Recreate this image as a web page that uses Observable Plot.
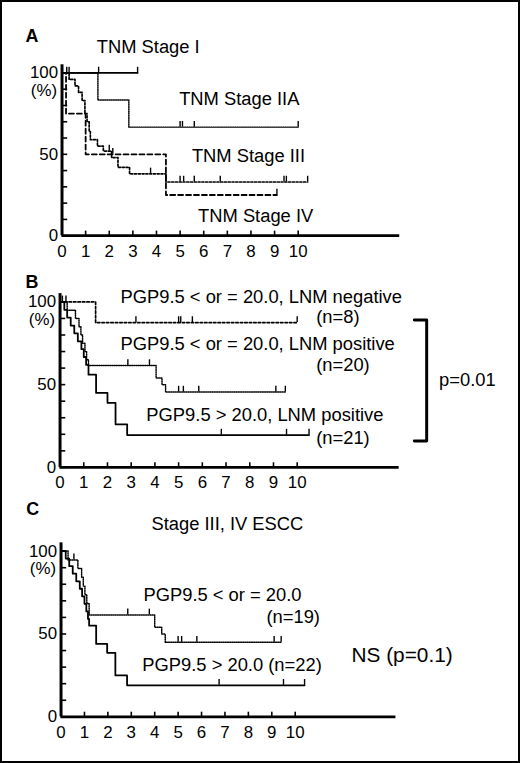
<!DOCTYPE html>
<html><head><meta charset="utf-8">
<script src="https://cdn.jsdelivr.net/npm/d3@7"></script>
<script src="https://cdn.jsdelivr.net/npm/@observablehq/plot@0.6"></script>
<style>
html,body{margin:0;padding:0;background:#fff;}
#frame{position:relative;width:520px;height:763px;box-sizing:border-box;border:2px solid #000;overflow:hidden;background:#fff;}
#frame svg{position:absolute;left:-2px;}
</style></head>
<body><div id="frame"></div>
<script>
// ---- shared ticks ----
const xTicks = [0,1,2,3,4,5,6,7,8,9,10];
const yTicks = [0,10,20,30,40,50,60,70,80,90,100];
const yLabels = [0,50,100];

// ---- Panel A: TNM stages ----
const stageI_t = [0, 3.2];
const stageI_s = [100, 100];
const stageI_c = [0.2, 1.55, 3.2];

const stageIIA_t = [0, 1.52, 2.83, 10.0];
const stageIIA_s = [100, 83.3, 66.7, 66.7];
const stageIIA_c = [0.3, 5.0, 5.1, 5.6, 10.0];

const stageIII_t = [0, 0.3, 0.55, 0.7, 0.85, 0.97, 1.06, 1.15, 1.2, 1.5, 1.75, 2.1, 2.37, 2.86, 4.4, 10.4];
const stageIII_s = [100, 96, 92, 88, 83, 75, 70, 64, 59, 55, 52, 48, 42, 38, 33, 33];
const stageIII_c = [2.0, 3.75, 5.0, 5.15, 5.6, 6.7, 9.4, 9.5, 10.4];

const stageIV_t = [0, 0.17, 1.0, 4.4, 9.1];
const stageIV_s = [100, 75, 50, 25, 25];
const stageIV_c = [2.15, 9.1];

// ---- Panel B: PGP9.5 x LNM ----
const negB_t = [0, 1.5, 10.0];
const negB_s = [100, 87.5, 87.5];
const negB_c = [0.1, 0.25, 3.2, 5.0, 5.09, 5.58, 10.0];

const posB_t = [0, 0.3, 0.65, 0.8, 0.88, 0.95, 1.05, 1.12, 1.2, 4.05, 4.3, 4.45, 9.5];
const posB_s = [100, 95, 90, 85, 80, 75, 70, 65, 61.5, 54, 50, 45.5, 45.5];
const posB_c = [2.86, 3.77, 5.0, 5.2, 5.85, 9.1, 9.5];

const hiB_t = [0, 0.18, 0.3, 0.45, 0.6, 0.75, 0.9, 1.0, 1.1, 1.2, 1.52, 2.0, 2.34, 2.83, 10.5];
const hiB_s = [100, 95.2, 90.5, 85.7, 81, 76.2, 71.4, 66.7, 61.9, 56, 45, 39, 26, 19.5, 19.5];
const hiB_c = [6.8, 9.55, 10.5];

// ---- Panel C: Stage III, IV ESCC ----
const loC_t = [0, 0.3, 0.72, 0.88, 0.95, 1.02, 1.1, 1.2, 4.0, 4.3, 4.45, 9.4];
const loC_s = [100, 94.7, 89.5, 84.2, 78.9, 73.7, 68.4, 61.5, 54, 50, 45, 45];
const loC_c = [0.55, 2.85, 3.77, 5.0, 5.15, 5.8, 9.1, 9.4];

const hiC_t = [0, 0.2, 0.35, 0.5, 0.65, 0.8, 0.9, 1.0, 1.08, 1.15, 1.2, 1.5, 1.97, 2.32, 2.82, 10.4];
const hiC_s = [100, 95.5, 90.9, 86.4, 81.8, 77.3, 72.7, 68.2, 63.6, 59.1, 55, 44, 38.6, 25, 19, 19];
const hiC_c = [6.75, 9.5, 10.4];

// ---- annotations (data units: years, %) ----
const annotA = [
  {text: "TNM Stage I", x: 1.47, y: 112},
  {text: "TNM Stage IIA", x: 4.96, y: 80.5},
  {text: "TNM Stage III", x: 5.5, y: 45},
  {text: "TNM Stage IV", x: 5.76, y: 8.5}
];
const annotB = [
  {text: "PGP9.5 < or = 20.0, LNM negative", x: 2.55, y: 99.3},
  {text: "(n=8)", x: 10.8, y: 87.3},
  {text: "PGP9.5 < or = 20.0, LNM positive", x: 2.55, y: 71.1},
  {text: "(n=20)", x: 10.8, y: 58.1},
  {text: "PGP9.5 > 20.0, LNM positive", x: 3.64, y: 28.1},
  {text: "(n=21)", x: 10.8, y: 14.1}
];
const annotC = [
  {text: "Stage III, IV ESCC", x: 3.86, y: 112.6},
  {text: "PGP9.5 < or = 20.0", x: 3.52, y: 69.6},
  {text: "(n=19)", x: 8.77, y: 56.9},
  {text: "PGP9.5 > 20.0 (n=22)", x: 3.47, y: 27.7}
];

const FONT = "'Liberation Sans', Arial, Helvetica, sans-serif";

function stepAt(t, s, x) { let v = s[0]; for (let i = 0; i < t.length; i++) if (t[i] <= x) v = s[i]; return v; }
function series(t, s) { return t.map((x, i) => ({x, y: s[i]})); }
function cens(t, s, c) { return c.map(x => ({x, y: stepAt(t, s, x)})); }

function curveMarks(t, s, c, dash, w) {
  return [
    Plot.line(series(t, s), {x: "x", y: "y", curve: "step-after", stroke: "#000", strokeWidth: w, strokeDasharray: dash}),
    Plot.ruleX(cens(t, s, c), {x: "x", y1: "y", y2: d => d.y + 3.5, stroke: "#000", strokeWidth: 1.4})
  ];
}

const letterMark = (letter, x, y) => Plot.text([letter], {x: () => x, y: () => y, text: d => d, textAnchor: "start", lineAnchor: "bottom", fontWeight: "bold", fontSize: 18});

function panel({top, height, x0, x10, y100, y0, curves, annot, extra = []}) {
  const frameMarks = [
    Plot.ruleX([0], {y1: 0, y2: 105, stroke: "#000", strokeWidth: 3}),
    Plot.ruleY([0], {x1: 0, x2: 14.3, stroke: "#000", strokeWidth: 2.8}),
    Plot.ruleX(xTicks, {x: d => d, y1: 0, y2: 2.8, stroke: "#000", strokeWidth: 1.6}),
    Plot.ruleY(yTicks, {y: d => d, x1: 0, x2: 0.24, stroke: "#000", strokeWidth: 1.6}),
    Plot.axisX({ticks: xTicks, tickSize: 0, tickPadding: 9, fontSize: 17, label: null, tickFormat: d => String(d)}),
    Plot.axisY({ticks: yLabels, tickSize: 0, tickPadding: 4, fontSize: 17, label: null, tickFormat: d => String(d)}),
    Plot.text(["(%)"], {x: () => 0, y: () => 100, text: d => d, dx: -5, dy: 18, textAnchor: "end", fontSize: 17})
  ];
  const svg = Plot.plot({
    width: 520,
    height,
    marginLeft: x0,
    marginRight: 520 - x10,
    marginTop: y100 - top,
    marginBottom: top + height - y0,
    x: {domain: [0, 10], axis: null},
    y: {domain: [0, 100], axis: null},
    style: {fontFamily: FONT, overflow: "visible", background: "transparent", color: "#000"},
    marks: [
      ...frameMarks,
      ...curves,
      Plot.text(annot, {x: "x", y: "y", text: "text", textAnchor: "start", lineAnchor: "bottom", fontSize: 18.5, fill: "#000"}),
      ...extra
    ]
  });
  svg.style.top = (top - 2) + "px";
  document.getElementById("frame").appendChild(svg);
  return svg;
}

panel({
  top: 0, height: 262, x0: 62, x10: 300, y100: 73, y0: 237,
  curves: [
    ...curveMarks(stageI_t, stageI_s, stageI_c, null, 1.8),
    ...curveMarks(stageIIA_t, stageIIA_s, stageIIA_c, "1,1.2", 1.5),
    ...curveMarks(stageIII_t, stageIII_s, stageIII_c, "2,1.8", 1.7),
    ...curveMarks(stageIV_t, stageIV_s, stageIV_c, "5,3", 1.8)
  ],
  annot: annotA,
  extra: [letterMark("A", -1.55, 119)]
});

panel({
  top: 262, height: 240, x0: 60, x10: 299, y100: 301.7, y0: 468.5,
  curves: [
    ...curveMarks(negB_t, negB_s, negB_c, "2.5,2", 1.7),
    ...curveMarks(posB_t, posB_s, posB_c, "1,1.2", 1.5),
    ...curveMarks(hiB_t, hiB_s, hiB_c, null, 1.8)
  ],
  annot: annotB,
  extra: [
    letterMark("B", -1.46, 108.3),
    Plot.line([{x: 14.94, y: 89.1}, {x: 15.46, y: 89.1}, {x: 15.46, y: 15.9}, {x: 14.94, y: 15.9}], {x: "x", y: "y", stroke: "#000", strokeWidth: 3}),
    Plot.text(["p=0.01"], {x: () => 15.98, y: () => 49.1, text: d => d, textAnchor: "start", lineAnchor: "bottom", fontSize: 18.5})
  ]
});

panel({
  top: 502, height: 261, x0: 61, x10: 297, y100: 551, y0: 718,
  curves: [
    ...curveMarks(loC_t, loC_s, loC_c, "1,1.2", 1.5),
    ...curveMarks(hiC_t, hiC_s, hiC_c, null, 1.8)
  ],
  annot: annotC,
  extra: [
    letterMark("C", -1.48, 121.6),
    Plot.text(["NS (p=0.1)"], {x: () => 12.4, y: () => 32.9, text: d => d, textAnchor: "start", lineAnchor: "bottom", fontSize: 21})
  ]
});
</script>
</body></html>
